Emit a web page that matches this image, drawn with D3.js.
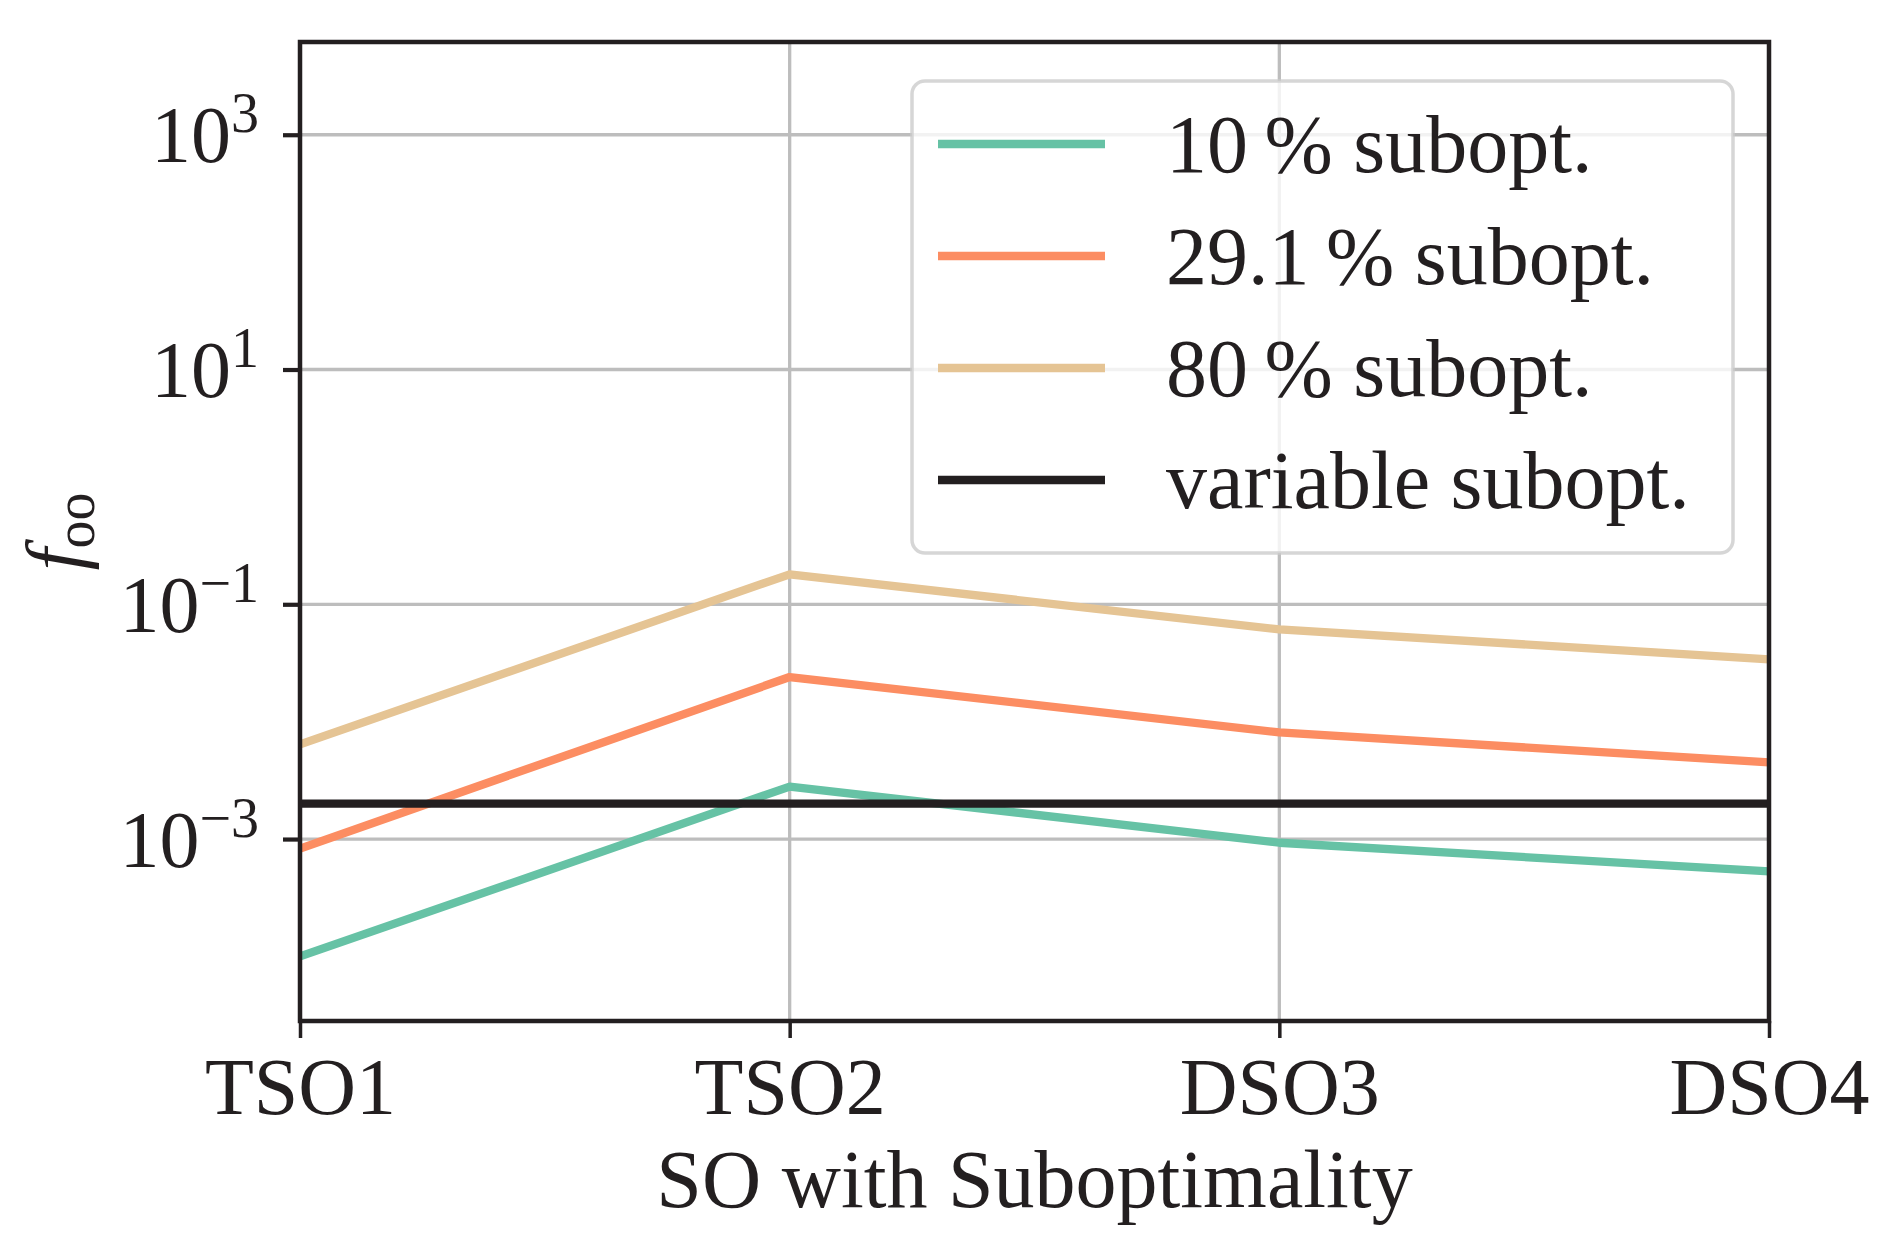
<!DOCTYPE html>
<html>
<head>
<meta charset="utf-8">
<script src="https://cdn.jsdelivr.net/npm/d3@7"></script>
<style>
  html, body { margin: 0; padding: 0; background: #ffffff; }
  svg { display: block; }
  text { font-family: "Liberation Serif", "DejaVu Serif", serif; fill: #231f20; }
</style>
</head>
<body>
<svg id="chart" width="1888" height="1248"></svg>
<script>
// ---- data ----
const categories = ["TSO1", "TSO2", "DSO3", "DSO4"];
const sub10 = [1.0e-4, 2.8e-3, 9.3e-4, 5.3e-4];
const sub29 = [8.3e-4, 2.4e-2, 8.1e-3, 4.5e-3];
const sub80 = [6.4e-3, 1.8e-1, 6.1e-2, 3.4e-2];
const subVariable = [2.0e-3, 2.0e-3, 2.0e-3, 2.0e-3];
const seriesNames = ["10\u2009% subopt.", "29.1\u2009% subopt.", "80\u2009% subopt.", "variable subopt."];
const seriesColors = ["#66c2a5", "#fc8d62", "#e5c494", "#231f20"];
const yTickValues = [1e-3, 1e-1, 1e1, 1e3];
const yTickExponents = ["\u22123", "\u22121", "1", "3"];
const xLabel = "SO with Suboptimality";

const seriesData = [sub10, sub29, sub80, subVariable];

(function () {
  // ---- layout ----
  const svg = d3.select("#chart");
  const pL = 300, pR = 1769, pT = 42, pB = 1021;
  const ink = "#231f20";

  const x = d3.scalePoint().domain(categories).range([pL, pR]);
  const y = d3.scaleLog().domain([Math.pow(10, -4.55), Math.pow(10, 3.79)]).range([pB, pT]);

  // gridlines
  const grid = svg.append("g");
  grid.selectAll("line.gx").data(categories).enter().append("line")
    .attr("x1", d => x(d)).attr("x2", d => x(d))
    .attr("y1", pT).attr("y2", pB)
    .attr("stroke", "#bdbdbd").attr("stroke-width", 3.3);
  grid.selectAll("line.gy").data(yTickValues).enter().append("line")
    .attr("x1", pL).attr("x2", pR)
    .attr("y1", d => y(d)).attr("y2", d => y(d))
    .attr("stroke", "#bdbdbd").attr("stroke-width", 3.3);

  // data lines
  const line = d3.line().x((d, i) => x(categories[i])).y(d => y(d));
  const plot = svg.append("g");
  seriesData.forEach((s, k) => {
    plot.append("path").datum(s)
      .attr("d", line)
      .attr("fill", "none")
      .attr("stroke", seriesColors[k])
      .attr("stroke-width", 8.3)
      .attr("stroke-linejoin", "round")
      .attr("stroke-linecap", "butt");
  });

  // axes
  const xAxis = svg.append("g").attr("transform", `translate(0,${pB})`)
    .call(d3.axisBottom(x).tickSize(17).tickPadding(12));
  xAxis.select(".domain").remove();
  xAxis.selectAll(".tick line").attr("stroke", ink).attr("stroke-width", 3.5);
  xAxis.selectAll(".tick text").attr("font-size", 80).attr("fill", ink)
    .attr("font-family", "Liberation Serif, DejaVu Serif, serif")
    .attr("dy", null).attr("y", 93);

  const yAxis = svg.append("g").attr("transform", `translate(${pL},0)`)
    .call(d3.axisLeft(y).tickValues(yTickValues).tickSize(17).tickFormat(""));
  yAxis.select(".domain").remove();
  yAxis.selectAll(".tick line").attr("stroke", ink).attr("stroke-width", 4.2);
  yAxis.selectAll(".tick").each(function (d, i) {
    const t = d3.select(this).append("text")
      .attr("x", -41).attr("y", 27)
      .attr("text-anchor", "end")
      .attr("font-size", 80)
      .attr("font-family", "Liberation Serif, DejaVu Serif, serif")
      .attr("fill", ink);
    t.append("tspan").text("10");
    t.append("tspan").attr("font-size", 56).attr("dy", -30).text(yTickExponents[i]);
  });

  // spines
  svg.append("rect")
    .attr("x", pL).attr("y", pT)
    .attr("width", pR - pL).attr("height", pB - pT)
    .attr("fill", "none").attr("stroke", ink).attr("stroke-width", 4.5);

  // axis labels
  svg.append("text")
    .attr("x", (pL + pR) / 2).attr("y", 1207)
    .attr("text-anchor", "middle")
    .attr("font-size", 82)
    .text(xLabel);

  const yl = svg.append("text")
    .attr("transform", `translate(82,${(pT + pB) / 2}) rotate(-90)`)
    .attr("text-anchor", "middle")
    .attr("font-size", 80);
  yl.append("tspan").attr("font-style", "italic").text("f");
  yl.append("tspan").attr("font-size", 56).attr("dy", 12).text("oo");

  // legend
  const lg = svg.append("g");
  lg.append("rect")
    .attr("x", 912).attr("y", 81).attr("width", 821).attr("height", 472)
    .attr("rx", 13).attr("ry", 13)
    .attr("fill", "#ffffff").attr("fill-opacity", 0.8)
    .attr("stroke", "#cccccc").attr("stroke-opacity", 0.8).attr("stroke-width", 3.5);
  const rowY = d3.scaleLinear().domain([0, 3]).range([144, 480]);
  seriesNames.forEach((name, k) => {
    lg.append("line")
      .attr("x1", 938).attr("x2", 1105)
      .attr("y1", rowY(k)).attr("y2", rowY(k))
      .attr("stroke", seriesColors[k]).attr("stroke-width", 8.3);
    lg.append("text")
      .attr("x", 1166).attr("y", rowY(k) + 28)
      .attr("font-size", 82)
      .text(name);
  });
})();
</script>
</body>
</html>
